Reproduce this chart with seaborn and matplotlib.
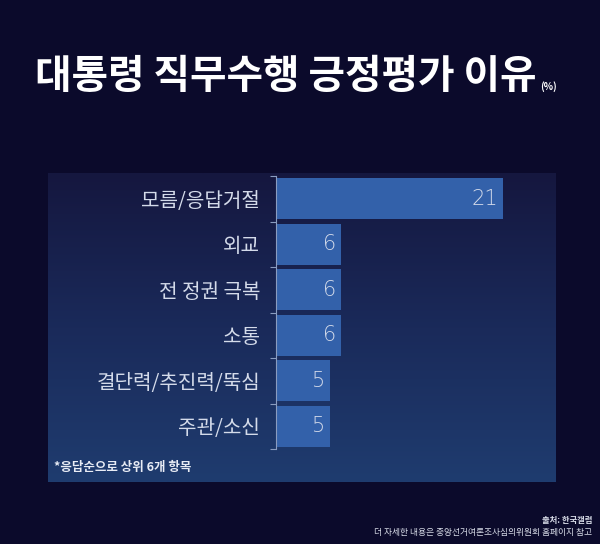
import numpy as np
import pandas as pd
import matplotlib
matplotlib.use('Agg')
import matplotlib.pyplot as plt
import seaborn as sns

# 데이터
reasons = ['모름/응답거절', '외교', '전 정권 극복', '소통', '결단력/추진력/뚝심', '주관/소신']
values = [21, 6, 6, 6, 5, 5]

title = '대통령 직무수행 긍정평가 이유'
note = '*응답순으로 상위 6개 항목'
source1 = '출처: 한국갤럽'
source2 = '더 자세한 내용은 중앙선거여론조사심의위원회 홈페이지 참고'

sns.set_theme(style='dark')
plt.rcParams['font.family'] = ['Noto Sans CJK KR', 'DejaVu Sans']

df = pd.DataFrame({'reason': reasons, 'value': values})

W, H = 600, 544
fig = plt.figure(figsize=(6, 5.44), dpi=100)
fig.patch.set_facecolor('#0b0a2b')

# 패널 배경 (세로 그라데이션)
px0, px1, py0, py1 = 48, 556, 173, 482
bg = fig.add_axes([px0 / W, 1 - py1 / H, (px1 - px0) / W, (py1 - py0) / H])
grad = np.linspace(0, 1, 256).reshape(-1, 1)
cmap = matplotlib.colors.LinearSegmentedColormap.from_list('panel', ['#15173f', '#1a2a5a', '#1f3c6f'])
bg.imshow(grad, aspect='auto', cmap=cmap, extent=[0, 1, 1, 0])
bg.set_axis_off()

# 막대 그래프
ax0, ax1, ay0, ay1 = 276, 556, 176, 449
ax = fig.add_axes([ax0 / W, 1 - ay1 / H, (ax1 - ax0) / W, (ay1 - ay0) / H])
ax.patch.set_alpha(0)
sns.barplot(data=df, x='value', y='reason', color='#3361aa', width=0.9,
            saturation=1, ax=ax, linewidth=0)
ax.set_xlim(0, (ax1 - ax0) / 10.83)
ax.set_ylim(5.5, -0.5)
ax.set_xlabel('')
ax.set_ylabel('')
ax.set_xticks([])
for s in ['top', 'right', 'bottom']:
    ax.spines[s].set_visible(False)
ax.spines['left'].set_color('#8a9cc0')
ax.spines['left'].set_linewidth(0.8)
ax.tick_params(axis='y', length=0, pad=11.5, labelsize=14.5, labelcolor='#d4dbea')
for lab in ax.get_yticklabels():
    lab.set_fontweight('light')
ax.set_yticks(np.arange(-0.5, 6, 1), minor=True)
ax.tick_params(axis='y', which='minor', left=True, length=4, width=0.8, color='#8a9cc0')
ax.grid(False)

for i, v in enumerate(values):
    ax.text(v - 0.45, i, str(v), ha='right', va='center', fontsize=15,
            color='#d4dbea', fontweight='light', family=['DejaVu Sans'])

# 제목
fig.text(286 / W, 1 - 76 / H, title, ha='center', va='center',
         fontsize=28.6, fontweight='bold', color='white')
fig.text(540 / W, 1 - 90 / H, '(%)', ha='left', va='baseline', fontsize=7,
         fontweight='bold', color='white')

fig.text(54 / W, 1 - 467 / H, note, ha='left', va='center', fontsize=9,
         fontweight='bold', color='#e8ecf5')
fig.text(592 / W, 1 - 520 / H, source1, ha='right', va='center', fontsize=6,
         fontweight='bold', color='#d8dce8')
fig.text(592 / W, 1 - 533 / H, source2, ha='right', va='center', fontsize=6.3,
         color='#d8dce8')

fig.savefig('out.png', dpi=100, facecolor=fig.get_facecolor())
